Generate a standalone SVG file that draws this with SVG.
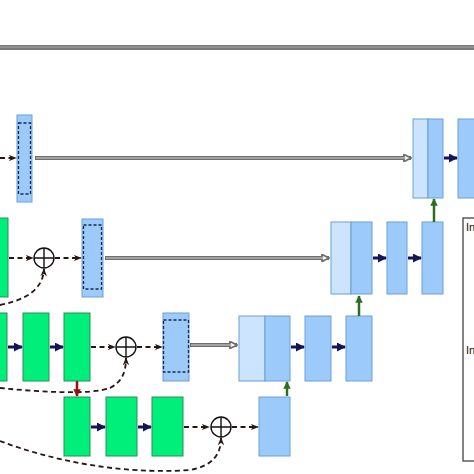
<svg xmlns="http://www.w3.org/2000/svg" width="474" height="474" viewBox="0 0 474 474">
<defs>
<style>
.g{fill:#00ef7a;stroke:#2e8b57;stroke-width:1}
.b{fill:#9ccbfb;stroke:#6a9fd4;stroke-width:1}
.lb{fill:#cce4fd;stroke:#6a9fd4;stroke-width:1}
.in{fill:none;stroke:#1a2a4a;stroke-width:1.3;stroke-dasharray:3,2}
.d{fill:none;stroke:#2a1414;stroke-width:1.8;stroke-dasharray:5,3.5}
.n{stroke:#14145a;stroke-width:3}
.gr{stroke:#2b6e1f;stroke-width:2.5}
.r{stroke:#991010;stroke-width:2.5}
.so{stroke:#6e6e6e;stroke-width:4;fill:none}
.si{stroke:#d8d8d8;stroke-width:1.2;fill:none}
.p{fill:#fff;stroke:#111;stroke-width:1.4}
.t{font-family:'Liberation Sans',Arial,sans-serif;font-size:11px;fill:#111}
</style>
<marker id="mn" viewBox="0 0 10 10" refX="9" refY="5" markerWidth="3" markerHeight="3" orient="auto"><path d="M0,0L10,5L0,10z" fill="#14145a"/></marker>
<marker id="mg" viewBox="0 0 10 10" refX="9" refY="5" markerWidth="3" markerHeight="3" orient="auto"><path d="M0,0L10,5L0,10z" fill="#2b6e1f"/></marker>
<marker id="mr" viewBox="0 0 10 10" refX="9" refY="5" markerWidth="3" markerHeight="3" orient="auto"><path d="M0,0L10,5L0,10z" fill="#991010"/></marker>
<marker id="md" viewBox="0 0 10 10" refX="9" refY="5" markerWidth="4.5" markerHeight="4.5" orient="auto"><path d="M0,1L10,5L0,9L3,5z" fill="#2a1414"/></marker>
<marker id="ms" viewBox="0 0 10 10" refX="9" refY="5" markerWidth="2.2" markerHeight="2.2" orient="auto"><path d="M1,1L9,5L1,9z" fill="#fff" stroke="#6e6e6e" stroke-width="2"/></marker>
</defs>
<rect width="474" height="474" fill="#fff"/>
<rect x="0" y="45" width="474" height="5" fill="#7a7a7a"/>
<rect x="0" y="46.5" width="474" height="1.2" fill="#9c9c9c"/>

<g id="enc1"><rect class="b" x="17" y="115" width="15" height="87"/><rect class="in" x="18.5" y="123" width="12" height="71"/></g>
<g id="enc2a"><rect class="g" x="-5" y="218" width="13" height="79"/></g>
<g id="plus2"><circle class="p" cx="44" cy="258" r="10"/><path d="M34,258H54M44,248V268" stroke="#111" stroke-width="1.4"/></g>
<g id="enc2"><rect class="b" x="82" y="219" width="21" height="78"/><rect class="in" x="83.5" y="225" width="18" height="64"/></g>

<g id="enc3a"><rect class="g" x="-5" y="313" width="12" height="68"/></g>
<g id="enc3b"><rect class="g" x="23" y="313" width="26" height="68"/></g>
<g id="enc3c"><rect class="g" x="64" y="313" width="26" height="68"/></g>
<g id="plus3"><circle class="p" cx="126" cy="347" r="10"/><path d="M116,347H136M126,337V357" stroke="#111" stroke-width="1.4"/></g>
<g id="enc3"><rect class="b" x="163" y="313" width="26" height="68"/><rect class="in" x="163.5" y="320" width="25" height="52"/></g>

<g id="enc4a"><rect class="g" x="64" y="397" width="26" height="59"/></g>
<g id="enc4b"><rect class="g" x="106" y="397" width="31" height="59"/></g>
<g id="enc4c"><rect class="g" x="152" y="397" width="31" height="59"/></g>
<g id="plus4"><circle class="p" cx="221" cy="427" r="10"/><path d="M211,427H231M221,417V437" stroke="#111" stroke-width="1.4"/></g>
<g id="bott"><rect class="b" x="259" y="397" width="31" height="59"/></g>

<g id="dec3"><rect class="lb" x="239" y="316" width="26" height="65"/><rect class="b" x="265" y="316" width="25" height="65"/></g>
<g id="dec3b"><rect class="b" x="305" y="316" width="26" height="65"/></g>
<g id="dec3c"><rect class="b" x="346" y="316" width="26" height="65"/></g>

<g id="dec2"><rect class="lb" x="331" y="222" width="20" height="72"/><rect class="b" x="351" y="222" width="21" height="72"/></g>
<g id="dec2b"><rect class="b" x="387" y="222" width="20" height="72"/></g>
<g id="dec2c"><rect class="b" x="422" y="222" width="21" height="72"/></g>

<g id="dec1"><rect class="lb" x="413" y="119" width="15" height="79"/><rect class="b" x="428" y="119" width="15" height="79"/></g>
<g id="dec1b"><rect class="b" x="458" y="119" width="20" height="79"/></g>

<g id="legend"><rect x="463" y="218" width="20" height="243" fill="none" stroke="#333" stroke-width="1.2"/>
<text class="t" x="466" y="231">In</text><text class="t" x="466" y="354">In</text></g>

<g id="connectors">
<line class="d" x1="0" y1="158" x2="16" y2="158" marker-end="url(#md)"/>
<line class="d" x1="9" y1="258" x2="33" y2="258" marker-end="url(#md)"/>
<line class="d" x1="55" y1="258" x2="81" y2="258" marker-end="url(#md)"/>
<path class="d" d="M0,305C25,300 43,290 44,269" marker-end="url(#md)"/>
<line class="d" x1="91" y1="347" x2="115" y2="347" marker-end="url(#md)"/>
<line class="d" x1="137" y1="347" x2="162" y2="347" marker-end="url(#md)"/>
<path class="d" d="M0,388C40,392 90,395 110,388C122,382 126,372 126,358" marker-end="url(#md)"/>
<line class="d" x1="184" y1="427" x2="209" y2="427" marker-end="url(#md)"/>
<line class="d" x1="232" y1="427" x2="258" y2="427" marker-end="url(#md)"/>
<path class="d" d="M0,441C50,460 120,475 190,470C212,466 221,455 221,438" marker-end="url(#md)"/>

<line class="n" x1="8" y1="347" x2="22" y2="347" marker-end="url(#mn)"/>
<line class="n" x1="50" y1="347" x2="63" y2="347" marker-end="url(#mn)"/>
<line class="n" x1="91" y1="427" x2="105" y2="427" marker-end="url(#mn)"/>
<line class="n" x1="138" y1="427" x2="151" y2="427" marker-end="url(#mn)"/>
<line class="n" x1="291" y1="347" x2="304" y2="347" marker-end="url(#mn)"/>
<line class="n" x1="332" y1="347" x2="345" y2="347" marker-end="url(#mn)"/>
<line class="n" x1="373" y1="258" x2="386" y2="258" marker-end="url(#mn)"/>
<line class="n" x1="408" y1="258" x2="421" y2="258" marker-end="url(#mn)"/>
<line class="n" x1="444" y1="158" x2="457" y2="158" marker-end="url(#mn)"/>

<line class="r" x1="77" y1="381" x2="77" y2="396" marker-end="url(#mr)"/>
<line class="gr" x1="287" y1="396" x2="287" y2="382" marker-end="url(#mg)"/>
<line class="gr" x1="359" y1="316" x2="359" y2="296" marker-end="url(#mg)"/>
<line class="gr" x1="434" y1="222" x2="434" y2="199" marker-end="url(#mg)"/>

<line class="so" x1="35" y1="158" x2="411" y2="158" marker-end="url(#ms)"/>
<line class="si" x1="36" y1="158" x2="406" y2="158"/>
<line class="so" x1="105" y1="258" x2="329" y2="258" marker-end="url(#ms)"/>
<line class="si" x1="106" y1="258" x2="324" y2="258"/>
<line class="so" x1="190" y1="345" x2="237" y2="345" marker-end="url(#ms)"/>
<line class="si" x1="191" y1="345" x2="232" y2="345"/>
</g>
</svg>
